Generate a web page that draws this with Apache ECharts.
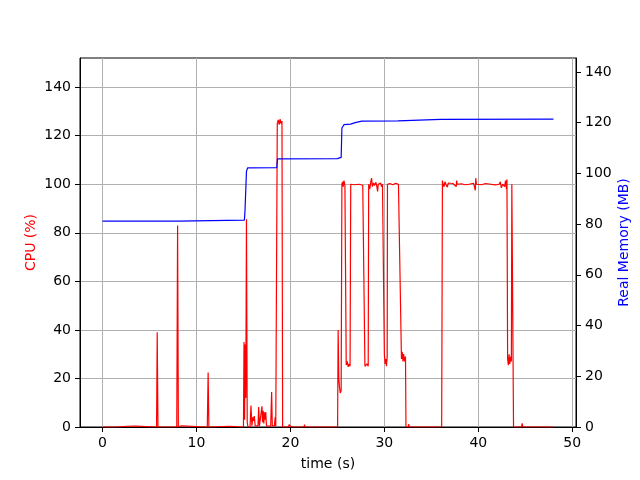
<!DOCTYPE html>
<html>
<head>
<meta charset="utf-8">
<title>CPU / Real Memory</title>
<script src="https://cdn.jsdelivr.net/npm/echarts@6.0.0/dist/echarts.min.js"></script>
<style>
  html, body { margin: 0; padding: 0; background: #fff; }
  #chart { width: 640px; height: 480px; }
</style>
</head>
<body>
<div id="chart"></div>
<script>
// tick labels
const xTicks = [0, 10, 20, 30, 40, 50];
const cpuTicks = [0, 20, 40, 60, 80, 100, 120, 140];
const memTicks = [0, 20, 40, 60, 80, 100, 120, 140];

// CPU (%) samples
const cpuTime = [
  0, 1.5, 2.6, 2.7, 3.5, 3.6, 5.75, 5.82, 5.9, 7.9, 7.99, 8.07, 8.4, 8.5,
  11.15, 11.24, 11.32, 13.5, 13.6, 15.0, 15.06, 15.12, 15.18, 15.25, 15.32, 15.4, 15.48,
  15.7, 15.8, 15.9, 16.0, 16.07, 16.15, 16.25, 16.55, 16.62, 16.7, 16.9, 16.97, 17.03,
  17.1, 17.17, 17.22, 17.3, 17.37, 17.45, 17.9, 18.0, 18.07, 18.3, 18.37, 18.44, 18.55,
  18.6, 18.7, 18.8, 18.9, 19.0, 19.1, 19.17, 19.8, 19.85, 19.95, 20.05, 20.12,
  21.45, 21.5, 21.55, 23.45, 23.5, 23.55, 25.02, 25.08, 25.15, 25.22, 25.3, 25.4,
  25.48, 25.55, 25.62, 25.7, 25.8, 25.88, 25.94, 26.05, 26.15, 26.25, 26.35, 26.42,
  26.6, 26.8, 27.0, 27.3, 27.5, 27.7, 27.88, 27.93, 28.05, 28.15, 28.28, 28.33,
  28.45, 28.55, 28.64, 28.72, 28.85, 28.95, 29.1, 29.2, 29.28, 29.35, 29.6, 29.7,
  29.8, 29.96, 30.0, 30.08, 30.15, 30.22, 30.3, 30.33, 30.6, 30.9, 31.2, 31.5, 31.6,
  31.7, 31.77, 31.82, 31.9, 31.98, 32.05, 32.15, 32.25, 32.3, 32.55, 32.6, 32.65,
  36.1, 36.18, 36.25, 36.35, 36.45, 36.55, 36.7, 36.8, 37.0, 37.3, 37.65, 37.7, 37.75,
  38.2, 38.6, 39.0, 39.5, 39.68, 39.73, 39.8, 40.3, 40.8, 41.3, 41.8, 42.2, 42.35,
  42.45, 42.6, 42.8, 42.9, 43.0, 43.05, 43.12, 43.2, 43.28, 43.35, 43.45, 43.52,
  43.57, 43.7, 43.75, 44.6, 44.67, 44.74, 48.0
];
const cpuValue = [
  0, 0, 0.3, 0, 0.4, 0, 0, 39, 0, 0, 83, 0, 0.5, 0,
  0, 22.4, 0, 0.3, 0, 0, 35, 3, 34, 12, 85.6, 2, 0,
  0, 8.8, 0.5, 4, 2.5, 4.5, 0.5, 0.5, 8.2, 0.3, 0.5, 8.5, 2,
  6.7, 1.5, 6, 3, 6.2, 0.5, 0.3, 14.4, 0.5, 0.5, 4, 0.3, 0,
  125, 126.5, 124.5, 126.8, 125, 126, 0, 0, 1, 0.5, 1, 0,
  0, 1, 0, 0, 0.8, 0, 0, 40, 20, 16.6, 14, 15,
  100, 101, 99, 101.5, 99.5, 100, 25.5, 27, 24.8, 26, 25, 100,
  100.5, 99.8, 100.2, 100, 100.4, 99.6, 100, 25, 24.5, 26, 25, 100,
  98, 101, 102.5, 99, 100.5, 99.5, 100.8, 99, 97, 100, 100.5, 99,
  100, 100, 30, 26, 28, 25, 29, 100, 100.3, 99.8, 100.4, 100, 100.8,
  100, 100, 28, 31, 27, 30, 27, 29, 0, 0, 1.2, 0,
  0, 101.5, 100, 99, 101, 100, 98.8, 100.5, 100, 100.3, 99, 101.5, 100,
  100.2, 99.8, 100, 100.4, 97.5, 102.5, 100, 99.8, 100.3, 100, 99.7, 100, 101,
  98.5, 100, 99, 101.5, 98, 102, 28, 25.5, 30, 26, 29, 27,
  100, 100, 0, 0, 1.5, 0, 0
];

// Real memory (MB) samples
const memTime = [
  0, 8.0, 8.05, 15.1, 15.17, 15.25, 15.32, 15.45, 18.55, 18.62, 25.0, 25.1, 25.4,
  25.48, 25.7, 26.4, 26.9, 27.6, 31.45, 31.55, 36.0, 48.0
];
const memValue = [
  81.2, 81.2, 81.6, 81.6, 85.7, 85.8, 100.8, 102.2, 102.3, 105.7, 105.8, 106.3, 106.3,
  117.9, 119.2, 119.4, 120.0, 120.6, 120.7, 121.2, 121.3, 121.4
];

const cpuData = cpuTime.map((t, i) => [t, cpuValue[i]]);
const memData = memTime.map((t, i) => [t, memValue[i]]);

const font = 'DejaVu Sans';
const gridColor = '#b0b0b0';

let myChart = echarts.init(document.getElementById('chart'));

let option = {
  animation: false,
  backgroundColor: '#fff',
  grid: {
    left: 80,
    right: 64,
    top: 58,
    bottom: 53,
    outerBoundsMode: 'none', // keep the plot box where it is
    show: true,
    borderColor: '#000',
    borderWidth: 1,
  },
  xAxis: {
    type: 'value',
    min: -2.4,
    max: 50.4,
    name: 'time (s)',
    nameLocation: 'middle',
    nameGap: 30,
    nameTextStyle: { color: '#000', fontSize: 14, fontFamily: font },
    axisLine: { show: true, onZero: false, lineStyle: { color: '#000', width: 1 } },
    axisTick: { show: true, length: 5, customValues: xTicks, lineStyle: { color: '#000', width: 1 } },
    axisLabel: { customValues: xTicks, color: '#000', fontSize: 14, fontFamily: font, margin: 9 },
    splitLine: { show: true, lineStyle: { color: gridColor, width: 1 } },
  },
  yAxis: [
    {
      type: 'value',
      position: 'left',
      min: 0,
      max: 152,
      name: 'CPU (%)',
      nameLocation: 'middle',
      nameGap: 42,
      nameMoveOverlap: false,
      nameTextStyle: { color: '#ff0000', fontSize: 14, fontFamily: font },
      axisLine: { show: true, onZero: false, lineStyle: { color: '#000', width: 1 } },
      axisTick: { show: true, length: 5, customValues: cpuTicks, lineStyle: { color: '#000', width: 1 } },
      axisLabel: { customValues: cpuTicks, color: '#000', fontSize: 14, fontFamily: font, margin: 9 },
      splitLine: { show: true, lineStyle: { color: gridColor, width: 1 } },
    },
    {
      type: 'value',
      position: 'right',
      min: 0,
      max: 145.5,
      name: 'Real Memory (MB)',
      nameLocation: 'middle',
      nameGap: 41,
      nameMoveOverlap: false,
      nameTextStyle: { color: '#0000ff', fontSize: 14, fontFamily: font },
      axisLine: { show: true, onZero: false, lineStyle: { color: '#000', width: 1 } },
      axisTick: { show: true, length: 5, customValues: memTicks, lineStyle: { color: '#000', width: 1 } },
      axisLabel: { customValues: memTicks, color: '#000', fontSize: 14, fontFamily: font, margin: 9 },
      splitLine: { show: false },
    },
  ],
  series: [
    {
      name: 'CPU',
      type: 'line',
      yAxisIndex: 0,
      showSymbol: false,
      data: cpuData,
      lineStyle: { color: '#ff0000', width: 1.2 },
      itemStyle: { color: '#ff0000' },
    },
    {
      name: 'Real Memory',
      type: 'line',
      yAxisIndex: 1,
      showSymbol: false,
      data: memData,
      lineStyle: { color: '#0000ff', width: 1.2 },
      itemStyle: { color: '#0000ff' },
    },
  ],
};

myChart.setOption(option);
</script>
</body>
</html>
